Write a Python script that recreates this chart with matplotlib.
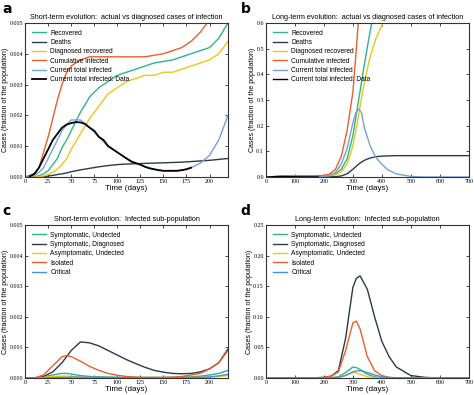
import numpy as np
import matplotlib
matplotlib.use("Agg")
import matplotlib.pyplot as plt

# colours
c_teal = "#2fb38e"
c_dark = "#2c3a47"
c_yellow = "#f2c417"
c_orange = "#e8602c"
c_blue = "#7b9fd8"
c_crit = "#4a90d9"

# ---------------- panel a (short term, actual vs diagnosed) ----------------
days_a = [0, 10, 15, 20, 25, 30, 35, 40, 45, 50, 60, 70, 80, 90, 100, 110, 120, 130,
          140, 150, 160, 170, 180, 190, 200, 210, 220]
recovered_a = [0, 0.00001, 0.00004, 0.0001, 0.0002, 0.0004, 0.0006, 0.00095, 0.0012,
               0.0015, 0.0021, 0.0026, 0.0029, 0.0031, 0.0033, 0.0034, 0.0035, 0.0036,
               0.0037, 0.00375, 0.0038, 0.0039, 0.0040, 0.0041, 0.0042, 0.0045, 0.0050]
deaths_a = [0, 0, 0, 0.00001, 0.00003, 0.00005, 0.00008, 0.0001, 0.00013, 0.00017,
            0.00023, 0.00028, 0.00033, 0.00037, 0.0004, 0.00042, 0.00043, 0.00044,
            0.00045, 0.00046, 0.00047, 0.00048, 0.0005, 0.00052, 0.00054, 0.00057, 0.0006]
diag_rec_a = [0, 0, 0.00001, 0.00003, 0.00008, 0.00015, 0.00026, 0.0004, 0.0006, 0.0009,
              0.0014, 0.0019, 0.0023, 0.0027, 0.0029, 0.0031, 0.0032, 0.0033, 0.0033,
              0.0034, 0.0034, 0.0035, 0.0036, 0.0037, 0.0038, 0.0040, 0.0044]
cumul_a = [0, 0.0001, 0.0003, 0.0008, 0.0013, 0.0019, 0.0025, 0.0030, 0.0034, 0.0036,
           0.0038, 0.0039, 0.0039, 0.0039, 0.0039, 0.0039, 0.0039, 0.0039, 0.00395,
           0.0040, 0.0041, 0.0042, 0.0044, 0.0047, 0.0051, 0.0056, 0.0062]
current_a = [0, 0.00005, 0.00015, 0.0003, 0.0006, 0.0009, 0.0012, 0.0015, 0.0017,
             0.00185, 0.00185, 0.0016, 0.0013, 0.0010, 0.0008, 0.0006, 0.00045,
             0.00033, 0.00025, 0.0002, 0.0002, 0.00022, 0.0003, 0.00045, 0.0007,
             0.0012, 0.0020]

# observed data
days_data = [5, 10, 15, 20, 25, 30, 35, 40, 45, 50, 55, 60, 65, 70, 75, 80, 85, 90,
             95, 100, 105, 110, 115, 120, 125, 130, 135, 140, 145, 150, 155, 160,
             165, 170, 175, 180]
data_a = [0.00002, 0.0001, 0.0003, 0.0006, 0.0009, 0.0012, 0.0014, 0.0016, 0.0017,
          0.00175, 0.00178, 0.00177, 0.00172, 0.0016, 0.0015, 0.0013, 0.0012, 0.0010,
          0.0009, 0.0008, 0.0007, 0.0006, 0.0005, 0.00045, 0.0004, 0.00033, 0.00028,
          0.00025, 0.00022, 0.0002, 0.0002, 0.0002, 0.0002, 0.00022, 0.00025, 0.0003]

# ---------------- panel b (long term, actual vs diagnosed) ----------------
days_b = [0, 50, 100, 150, 200, 220, 240, 260, 280, 300, 310, 320, 330, 340, 360,
          380, 400, 420, 450, 500, 550, 600, 700]
recovered_b = [0, 0.002, 0.004, 0.004, 0.004, 0.006, 0.012, 0.03, 0.07, 0.16, 0.23,
               0.30, 0.37, 0.44, 0.57, 0.68, 0.76, 0.82, 0.88, 0.92, 0.93, 0.93, 0.93]
deaths_b = [0, 0, 0, 0, 0.0005, 0.0008, 0.001, 0.004, 0.012, 0.03, 0.04, 0.05, 0.058,
            0.065, 0.074, 0.079, 0.081, 0.082, 0.083, 0.083, 0.083, 0.083, 0.083]
diag_rec_b = [0, 0.002, 0.003, 0.003, 0.004, 0.005, 0.008, 0.02, 0.05, 0.12, 0.18,
              0.24, 0.31, 0.37, 0.47, 0.54, 0.59, 0.63, 0.67, 0.70, 0.71, 0.71, 0.71]
cumul_b = [0, 0.003, 0.004, 0.004, 0.006, 0.012, 0.03, 0.08, 0.18, 0.33, 0.47, 0.62,
           0.74, 0.82, 0.9, 0.94, 0.96, 0.97, 0.98, 0.98, 0.98, 0.98, 0.98]
current_b = [0, 0.001, 0.0005, 0.0003, 0.002, 0.006, 0.018, 0.05, 0.11, 0.21, 0.25,
             0.265, 0.25, 0.19, 0.12, 0.075, 0.05, 0.028, 0.012, 0.002, 0, 0, 0]

# ---------------- panel c (short term, infected sub-population) ----------------
days_c = [0, 10, 20, 30, 40, 45, 50, 60, 70, 80, 90, 100, 110, 120, 130, 140, 150,
          160, 170, 180, 190, 200, 210, 220]
sympt_undet_c = [0, 0, 0.00003, 0.0001, 0.00015, 0.00015, 0.00013, 0.00008, 0.00005,
                 0.00004, 0.00003, 0.00002, 0.00002, 0.00002, 0.00002, 0.00002,
                 0.00002, 0.00002, 0.00003, 0.00004, 0.00006, 0.0001, 0.00015, 0.00025]
sympt_diag_c = [0, 0, 0.00005, 0.0002, 0.0005, 0.0007, 0.0009, 0.00118, 0.00115,
                0.00105, 0.0009, 0.00075, 0.0006, 0.00047, 0.00035, 0.00025, 0.00019,
                0.00015, 0.00014, 0.00015, 0.0002, 0.0003, 0.0005, 0.00095]
asympt_c = [0, 0, 0.00002, 0.00005, 0.00006, 0.00006, 0.00005, 0.00003, 0.00002,
            0.00001, 0.00001, 0.00001, 0.00001, 0.00001, 0.00001, 0.00001, 0.00001,
            0.00001, 0.00001, 0.00002, 0.00002, 0.00003, 0.00005, 0.00008]
isolated_c = [0, 0, 0.0001, 0.0004, 0.0007, 0.00073, 0.0007, 0.00055, 0.00038, 0.00025,
              0.00015, 0.00009, 0.00005, 0.00003, 0.00002, 0.00002, 0.00002, 0.00003,
              0.00005, 0.0001, 0.00015, 0.0003, 0.0005, 0.0009]
critical_c = [0, 0, 0, 0.00001, 0.00002, 0.00002, 0.00003, 0.00003, 0.00003, 0.00002,
              0.00002, 0.00002, 0.00001, 0.00001, 0.00001, 0.00001, 0.00001, 0.00001,
              0.00001, 0.00002, 0.00002, 0.00004, 0.00007, 0.00012]

# ---------------- panel d (long term, infected sub-population) ----------------
days_d = [0, 50, 100, 150, 200, 225, 250, 275, 300, 312, 325, 350, 375, 400, 425,
          450, 500, 550, 600, 700]
sympt_undet_d = [0, 0, 0, 0, 0.0002, 0.0006, 0.002, 0.009, 0.018, 0.017, 0.014, 0.006,
                 0.002, 0.0005, 0.0002, 0, 0, 0, 0, 0]
sympt_diag_d = [0, 0.0005, 0.0002, 0, 0.001, 0.003, 0.012, 0.065, 0.148, 0.163, 0.167,
                0.145, 0.10, 0.06, 0.035, 0.018, 0.004, 0.001, 0, 0]
asympt_d = [0, 0, 0, 0, 0.0001, 0.0003, 0.001, 0.005, 0.009, 0.008, 0.006, 0.002,
            0.0005, 0.0001, 0, 0, 0, 0, 0, 0]
isolated_d = [0, 0.0003, 0.0001, 0, 0.001, 0.003, 0.01, 0.045, 0.09, 0.093, 0.08, 0.035,
              0.012, 0.004, 0.001, 0, 0, 0, 0, 0]
critical_d = [0, 0, 0, 0, 0.0001, 0.0003, 0.001, 0.004, 0.010, 0.0115, 0.012, 0.009,
              0.005, 0.002, 0.001, 0.0005, 0, 0, 0, 0]

plt.rcParams['font.family'] = ['Liberation Sans', 'DejaVu Sans']

fig = plt.figure(figsize=(4.74, 3.95), dpi=100)
ax_a = fig.add_axes([0.053, 0.552, 0.428, 0.39])
ax_b = fig.add_axes([0.561, 0.552, 0.428, 0.39])
ax_c = fig.add_axes([0.053, 0.043, 0.428, 0.387])
ax_d = fig.add_axes([0.561, 0.043, 0.428, 0.387])

lw = 1.0

ax_a.plot(days_a, recovered_a, color=c_teal, lw=lw, label="Recovered")
ax_a.plot(days_a, deaths_a, color=c_dark, lw=lw, label="Deaths")
ax_a.plot(days_a, diag_rec_a, color=c_yellow, lw=lw, label="Diagnosed recovered")
ax_a.plot(days_a, cumul_a, color=c_orange, lw=lw, label="Cumulative infected")
ax_a.plot(days_a, current_a, color=c_blue, lw=lw, label="Current total infected")
ax_a.plot(days_data, data_a, color="black", lw=1.3, label="Current total infected: Data")

ax_b.plot(days_b, recovered_b, color=c_teal, lw=lw, label="Recovered")
ax_b.plot(days_b, deaths_b, color=c_dark, lw=lw, label="Deaths")
ax_b.plot(days_b, diag_rec_b, color=c_yellow, lw=lw, label="Diagnosed recovered")
ax_b.plot(days_b, cumul_b, color=c_orange, lw=lw, label="Cumulative infected")
ax_b.plot(days_b, current_b, color=c_blue, lw=lw, label="Current total infected")
ax_b.plot(days_data, data_a, color="black", lw=1.0, label="Current total infected: Data")

for ax, days, su, sd, au, iso, cr in [
        (ax_c, days_c, sympt_undet_c, sympt_diag_c, asympt_c, isolated_c, critical_c),
        (ax_d, days_d, sympt_undet_d, sympt_diag_d, asympt_d, isolated_d, critical_d)]:
    ax.plot(days, su, color=c_teal, lw=lw, label="Symptomatic, Undected")
    ax.plot(days, sd, color=c_dark, lw=lw, label="Symptomatic, Diagnosed")
    ax.plot(days, au, color=c_yellow, lw=lw, label="Asymptomatic, Undected")
    ax.plot(days, iso, color=c_orange, lw=lw, label="Isolated")
    ax.plot(days, cr, color=c_crit, lw=lw, label="Critical")

tfs = 5.2
ax_a.set_title("Short-term evolution:  actual vs diagnosed cases of infection", fontsize=tfs, pad=3)
ax_b.set_title("Long-term evolution:  actual vs diagnosed cases of infection", fontsize=tfs, pad=3)
ax_c.set_title("Short-term evolution:  Infected sub-population", fontsize=tfs, pad=3)
ax_d.set_title("Long-term evolution:  Infected sub-population", fontsize=tfs, pad=3)

ax_a.set_xlim(0, 220)
ax_a.set_ylim(0, 0.005)
ax_a.set_xticks(range(0, 201, 25))
ax_a.set_yticks(np.arange(0, 0.0051, 0.001))
ax_a.yaxis.set_major_formatter(matplotlib.ticker.FormatStrFormatter('%.3f'))

ax_c.set_xlim(0, 220)
ax_c.set_ylim(0, 0.005)
ax_c.set_xticks(range(0, 201, 25))
ax_c.set_yticks(np.arange(0, 0.0051, 0.001))
ax_c.yaxis.set_major_formatter(matplotlib.ticker.FormatStrFormatter('%.3f'))

ax_b.set_xlim(0, 700)
ax_b.set_ylim(0, 0.6)
ax_b.set_xticks(range(0, 701, 100))
ax_b.set_yticks(np.arange(0, 0.61, 0.1))
ax_b.yaxis.set_major_formatter(matplotlib.ticker.FormatStrFormatter('%.1f'))

ax_d.set_xlim(0, 700)
ax_d.set_ylim(0, 0.25)
ax_d.set_xticks(range(0, 701, 100))
ax_d.set_yticks(np.arange(0, 0.251, 0.05))
ax_d.yaxis.set_major_formatter(matplotlib.ticker.FormatStrFormatter('%.2f'))

for ax in [ax_a, ax_b, ax_c, ax_d]:
    ax.set_xlabel("Time (days)", fontsize=5.8, labelpad=1)
    ax.set_ylabel("Cases (fraction of the population)", fontsize=5, labelpad=0.5)
    ax.tick_params(direction="in", labelsize=4.3, length=2, width=0.5, pad=1.5,
                   top=True, right=True)
    for lab in ax.get_xticklabels() + ax.get_yticklabels():
        lab.set_family("Liberation Serif")
    for s in ax.spines.values():
        s.set_linewidth(0.8)
        s.set_color("#333333")
    ax.legend(loc="upper left", fontsize=4.8, frameon=False, handlelength=2.2,
              handletextpad=0.6, labelspacing=0.35, borderaxespad=0.6)

fig.text(0.005, 0.995, "a", fontsize=10, fontweight="bold", va="top", family="DejaVu Sans")
fig.text(0.508, 0.995, "b", fontsize=10, fontweight="bold", va="top", family="DejaVu Sans")
fig.text(0.005, 0.483, "c", fontsize=10, fontweight="bold", va="top", family="DejaVu Sans")
fig.text(0.508, 0.483, "d", fontsize=10, fontweight="bold", va="top", family="DejaVu Sans")

fig.savefig("out.png", dpi=100)
